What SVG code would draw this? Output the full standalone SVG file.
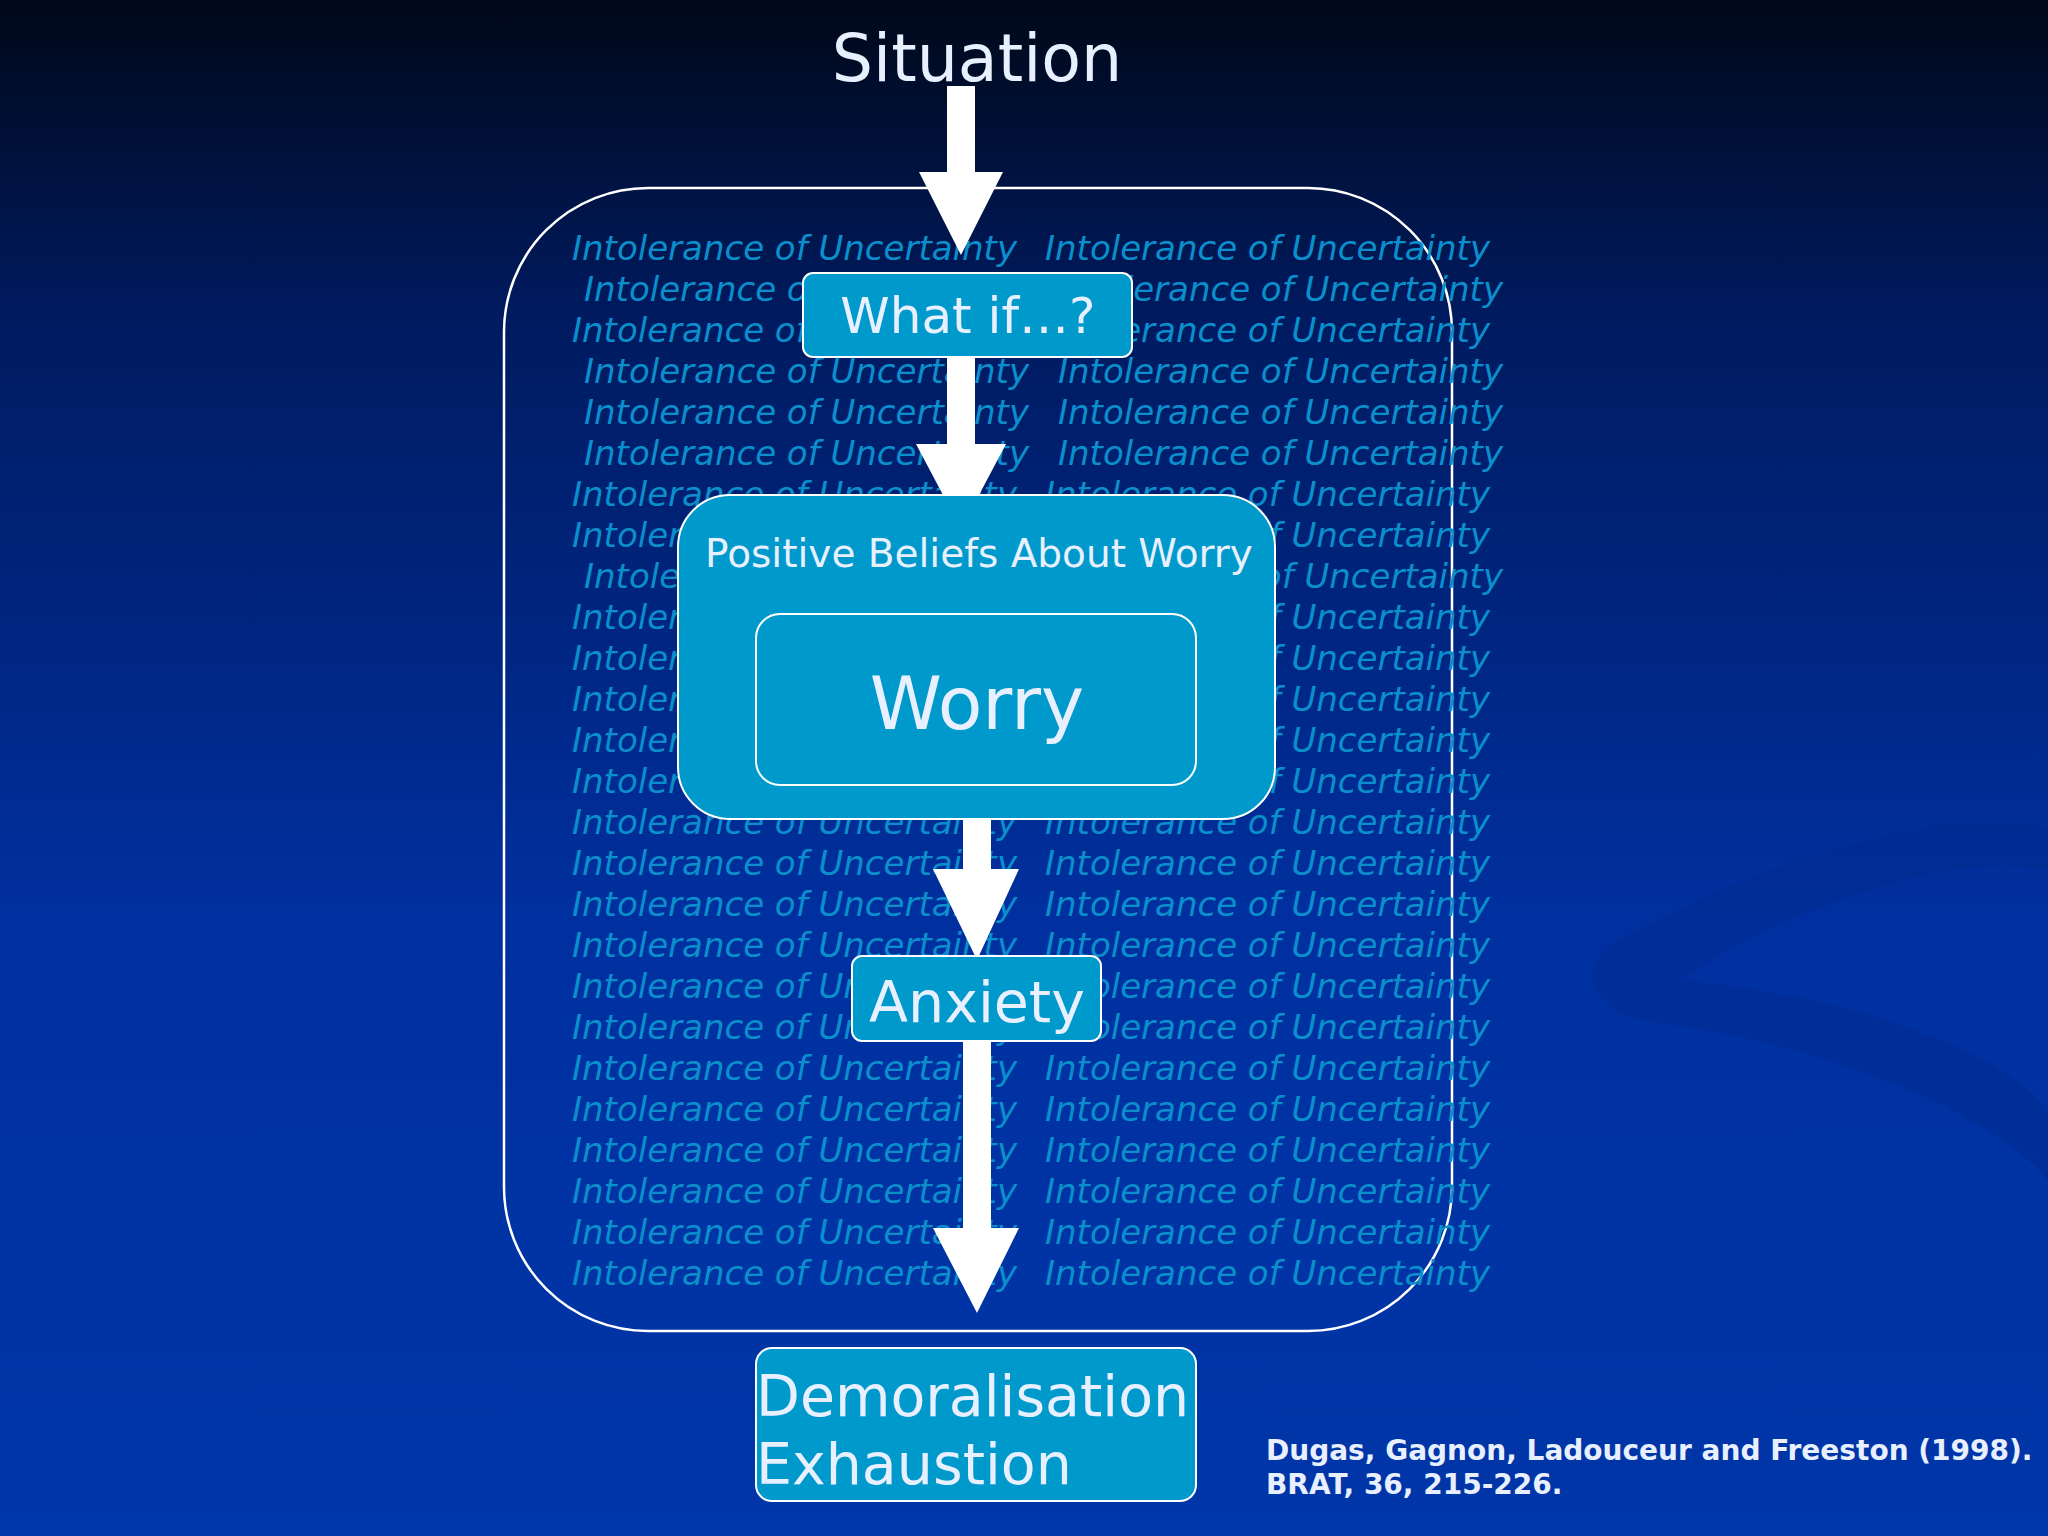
<svg xmlns="http://www.w3.org/2000/svg" width="2048" height="1536" viewBox="0 0 2048 1536">
<defs>
<linearGradient id="bg" x1="0" y1="0" x2="0" y2="1">
<stop offset="0" stop-color="#000818"/>
<stop offset="0.2" stop-color="#001a5e"/>
<stop offset="0.6" stop-color="#0030a0"/>
<stop offset="1" stop-color="#0036a8"/>
</linearGradient>
</defs>
<style>
.iu{font-family:"DejaVu Sans",Verdana,sans-serif;font-style:italic;font-size:34px;fill:#0a8fcc}
.box{fill:#0099cc;stroke:#ffffff;stroke-width:2}
.t{font-family:"DejaVu Sans",Verdana,sans-serif;fill:#e8f0ff}
.arr{fill:#ffffff}
</style>
<rect width="2048" height="1536" fill="url(#bg)"/>
<path d="M1620,940 C1760,860 1960,800 2048,830 L2048,870 C1960,850 1800,900 1680,980 C1900,1000 2048,1080 2048,1120 L2048,1180 C1980,1100 1800,1040 1640,1020 C1580,1000 1580,960 1620,940 Z" fill="#002a8c" opacity="0.45"/>
<text class="t" x="977" y="81" font-size="65" text-anchor="middle">Situation</text>
<rect x="504" y="188" width="948" height="1143" rx="144" fill="none" stroke="#ffffff" stroke-width="2.5"/>
<g id="iu-text">
<text class="iu" x="572" y="260">Intolerance of Uncertainty</text><text class="iu" x="1045" y="260">Intolerance of Uncertainty</text>
<text class="iu" x="584" y="301">Intolerance of Uncertainty</text><text class="iu" x="1058" y="301">Intolerance of Uncertainty</text>
<text class="iu" x="572" y="342">Intolerance of Uncertainty</text><text class="iu" x="1045" y="342">Intolerance of Uncertainty</text>
<text class="iu" x="584" y="383">Intolerance of Uncertainty</text><text class="iu" x="1058" y="383">Intolerance of Uncertainty</text>
<text class="iu" x="584" y="424">Intolerance of Uncertainty</text><text class="iu" x="1058" y="424">Intolerance of Uncertainty</text>
<text class="iu" x="584" y="465">Intolerance of Uncertainty</text><text class="iu" x="1058" y="465">Intolerance of Uncertainty</text>
<text class="iu" x="572" y="506">Intolerance of Uncertainty</text><text class="iu" x="1045" y="506">Intolerance of Uncertainty</text>
<text class="iu" x="572" y="547">Intolerance of Uncertainty</text><text class="iu" x="1045" y="547">Intolerance of Uncertainty</text>
<text class="iu" x="584" y="588">Intolerance of Uncertainty</text><text class="iu" x="1058" y="588">Intolerance of Uncertainty</text>
<text class="iu" x="572" y="629">Intolerance of Uncertainty</text><text class="iu" x="1045" y="629">Intolerance of Uncertainty</text>
<text class="iu" x="572" y="670">Intolerance of Uncertainty</text><text class="iu" x="1045" y="670">Intolerance of Uncertainty</text>
<text class="iu" x="572" y="711">Intolerance of Uncertainty</text><text class="iu" x="1045" y="711">Intolerance of Uncertainty</text>
<text class="iu" x="572" y="752">Intolerance of Uncertainty</text><text class="iu" x="1045" y="752">Intolerance of Uncertainty</text>
<text class="iu" x="572" y="793">Intolerance of Uncertainty</text><text class="iu" x="1045" y="793">Intolerance of Uncertainty</text>
<text class="iu" x="572" y="834">Intolerance of Uncertainty</text><text class="iu" x="1045" y="834">Intolerance of Uncertainty</text>
<text class="iu" x="572" y="875">Intolerance of Uncertainty</text><text class="iu" x="1045" y="875">Intolerance of Uncertainty</text>
<text class="iu" x="572" y="916">Intolerance of Uncertainty</text><text class="iu" x="1045" y="916">Intolerance of Uncertainty</text>
<text class="iu" x="572" y="957">Intolerance of Uncertainty</text><text class="iu" x="1045" y="957">Intolerance of Uncertainty</text>
<text class="iu" x="572" y="998">Intolerance of Uncertainty</text><text class="iu" x="1045" y="998">Intolerance of Uncertainty</text>
<text class="iu" x="572" y="1039">Intolerance of Uncertainty</text><text class="iu" x="1045" y="1039">Intolerance of Uncertainty</text>
<text class="iu" x="572" y="1080">Intolerance of Uncertainty</text><text class="iu" x="1045" y="1080">Intolerance of Uncertainty</text>
<text class="iu" x="572" y="1121">Intolerance of Uncertainty</text><text class="iu" x="1045" y="1121">Intolerance of Uncertainty</text>
<text class="iu" x="572" y="1162">Intolerance of Uncertainty</text><text class="iu" x="1045" y="1162">Intolerance of Uncertainty</text>
<text class="iu" x="572" y="1203">Intolerance of Uncertainty</text><text class="iu" x="1045" y="1203">Intolerance of Uncertainty</text>
<text class="iu" x="572" y="1244">Intolerance of Uncertainty</text><text class="iu" x="1045" y="1244">Intolerance of Uncertainty</text>
<text class="iu" x="572" y="1285">Intolerance of Uncertainty</text><text class="iu" x="1045" y="1285">Intolerance of Uncertainty</text>
</g>
<g id="connectors">
<polygon class="arr" points="947,86 975,86 975,172 1003,172 961,255 919,172 947,172"/>
<polygon class="arr" points="947,357 975,357 975,444 1006,444 961,529 916,444 947,444"/>
<polygon class="arr" points="963,819 991,819 991,869 1019,869 977,960 933,869 963,869"/>
<polygon class="arr" points="963,1041 991,1041 991,1228 1019,1228 977,1313 933,1228 963,1228"/>
</g>
<g id="whatif">
<rect class="box" x="803" y="273" width="329" height="84" rx="10"/>
<text class="t" x="968" y="333" font-size="50" text-anchor="middle">What if…?</text>
</g>
<g id="beliefs">
<rect class="box" x="678" y="495" width="597" height="324" rx="52"/>
<text class="t" x="979" y="567" font-size="39" text-anchor="middle">Positive Beliefs About Worry</text>
</g>
<g id="worry">
<rect class="box" x="756" y="614" width="440" height="171" rx="24"/>
<text class="t" x="977" y="729" font-size="73" text-anchor="middle">Worry</text>
</g>
<g id="connector-top">
<polygon class="arr" points="963,819 991,819 991,869 963,869" />
</g>
<g id="anxiety">
<rect class="box" x="852" y="956" width="249" height="85" rx="10"/>
<text class="t" x="977" y="1022" font-size="57" text-anchor="middle">Anxiety</text>
</g>
<g id="demoralisation">
<rect class="box" x="756" y="1348" width="440" height="153" rx="16"/>
<text class="t" x="756" y="1416" font-size="57">Demoralisation</text>
<text class="t" x="756" y="1484" font-size="57">Exhaustion</text>
</g>
<g id="citation">
<text class="t" x="1266" y="1460" font-size="28" font-weight="bold">Dugas, Gagnon, Ladouceur and Freeston (1998).</text>
<text class="t" x="1266" y="1494" font-size="28" font-weight="bold">BRAT, 36, 215-226.</text>
</g>
</svg>
